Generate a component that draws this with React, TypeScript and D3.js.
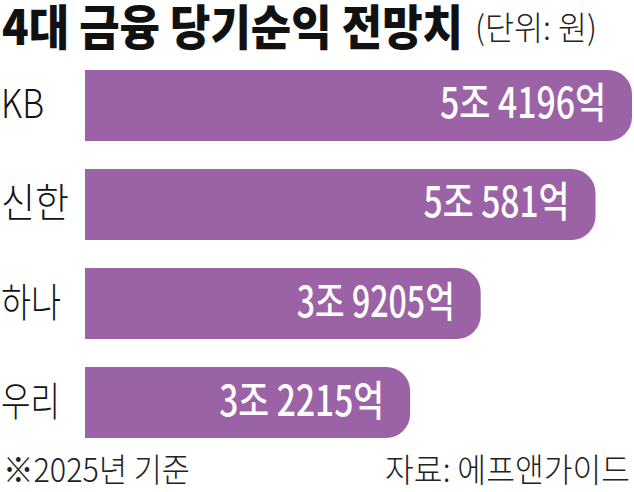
import React from "react";
import * as d3 from "d3";

const categories = ["KB", "신한", "하나", "우리"];
const values = [54196, 50581, 39205, 32215]; // 억원
const valueLabels = ["5조 4196억", "5조 581억", "3조 9205억", "3조 2215억"];
const catLabelWidths = [43, 68, 60, 59];
const valueLabelWidths = [166, 146, 158, 165];
const title = "4대 금융 당기순익 전망치";
const unitText = "(단위: 원)";
const noteText = "※2025년 기준";
const sourceText = "자료: 에프앤가이드";

const W = 634;
const H = 492;
const FAMILY = "'Noto Sans CJK KR', 'Noto Sans', sans-serif";
const BAR = "#9b62a5";

let ctx: CanvasRenderingContext2D | null = null;
function measure(text: string, size: number, weight: number) {
  if (typeof document === "undefined") return text.length * size * 0.8;
  if (!ctx) ctx = document.createElement("canvas").getContext("2d");
  if (!ctx) return text.length * size * 0.8;
  ctx.font = `${weight} ${size}px ${FAMILY}`;
  return ctx.measureText(text).width;
}

type FitProps = {
  text: string;
  x: number;
  y: number;
  width: number;
  size: number;
  weight?: number;
  fill: string;
  anchor?: "start" | "end";
};

function FitText({ text, x, y, width, size, weight = 400, fill, anchor = "start" }: FitProps) {
  const natural = measure(text, size, weight);
  const sx = natural > 0 ? width / natural : 1;
  return (
    <text
      transform={`translate(${x},${y}) scale(${sx},1)`}
      fontSize={size}
      fontWeight={weight}
      fill={fill}
      textAnchor={anchor}
    >
      {text}
    </text>
  );
}

function barPath(x0: number, x1: number, y0: number, h: number, r: number) {
  const rr = Math.min(r, h / 2, x1 - x0);
  const p = d3.path();
  p.moveTo(x0, y0);
  p.lineTo(x1 - rr, y0);
  p.arcTo(x1, y0, x1, y0 + rr, rr);
  p.lineTo(x1, y0 + h - rr);
  p.arcTo(x1, y0 + h, x1 - rr, y0 + h, rr);
  p.lineTo(x0, y0 + h);
  p.closePath();
  return p.toString();
}

export default function App() {
  const x = d3.scaleLinear().domain([0, values[0]]).range([85, 632]);
  const y = d3
    .scaleBand<string>()
    .domain(categories)
    .range([70, 438])
    .paddingInner(0.283)
    .paddingOuter(0);
  const bw = y.bandwidth();

  return (
    <svg
      width={W}
      height={H}
      style={{ position: "absolute", left: 0, top: 0, background: "#fff" }}
      fontFamily={FAMILY}
    >
      <rect width={W} height={H} fill="#fff" />
      <FitText text={title} x={2} y={45} width={461} size={48} weight={900} fill="#111" />
      <FitText text={unitText} x={475} y={40} width={122} size={33} weight={300} fill="#222" />

      {categories.map((c, i) => {
        const y0 = y(c)!;
        const cy = y0 + bw / 2;
        return (
          <g key={c}>
            <FitText
              text={c}
              x={1}
              y={cy + 13}
              width={catLabelWidths[i]}
              size={40}
              weight={300}
              fill="#111"
            />
            <path d={barPath(x(0), x(values[i]), y0, bw, 24)} fill={BAR} />
            <FitText
              text={valueLabels[i]}
              x={x(values[i]) - 26}
              y={cy + 13}
              width={valueLabelWidths[i]}
              size={42}
              weight={500}
              fill="#fff"
              anchor="end"
            />
          </g>
        );
      })}

      <FitText text={noteText} x={3} y={482} width={187} size={33} weight={300} fill="#222" />
      <FitText
        text={sourceText}
        x={630}
        y={482}
        width={245}
        size={33}
        weight={300}
        fill="#222"
        anchor="end"
      />
    </svg>
  );
}
